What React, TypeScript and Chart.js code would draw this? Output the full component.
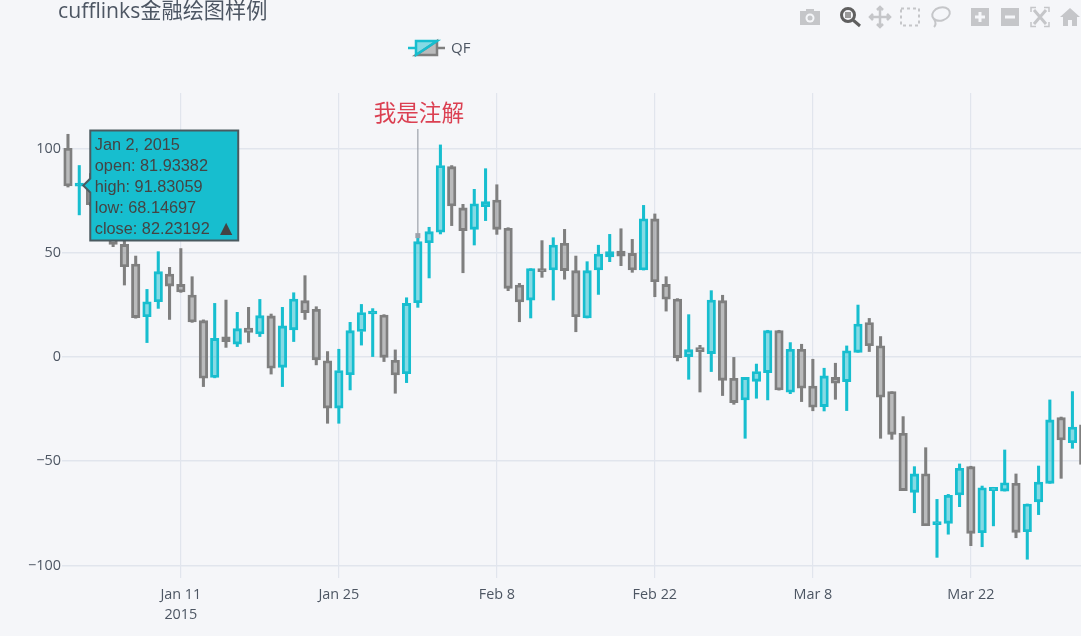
import { useEffect, useRef } from 'react'
import { Chart, Tooltip, registerables } from 'chart.js'

Chart.register(...registerables)

const title = 'cufflinks金融绘图样例'
const seriesName = 'QF'
const noteText = '我是注解'
const noteIndex = 31
const hoverIndex = 1
const hoverDate = 'Jan 2, 2015'

const tickDays = [10, 24, 38, 52, 66, 80]
const tickLabels = [['Jan 11', '2015'], 'Jan 25', 'Feb 8', 'Feb 22', 'Mar 8', 'Mar 22']
const yTicks = [100, 50, 0, -50, -100]

const open = [
  100.1, 81.93382, 82.2, 73, 62, 54, 44.6, 19.3, 26.5, 39.8, 34.8, 29.7, 17.4, -9.8, 9.7, 6.2, 13.9, 11, 19.7, -5,
  13, 27, 22.9, -1.8, -24.5, -8.5, 12.2, 20.6, 20.1, -1.6, -8, 26, 54.8, 59.8, 91.3, 71.5, 61.2, 72.1, 75.3, 61.7,
  34.5, 27.3, 41.7, 41.7, 54.5, 41.4, 18.7, 41.7, 48, 50.8, 49.7, 41.7, 66.2, 34.8, 27.8, 0.2, 4.5, 1.6, 27, -10.2,
  -20.6, -11.7, -7.5, 12.6, -16.9, 3.7, -13.9, -23.8, -9.8, -11.8, 2.2, 16.5, 5.4, -16.6, -36.6, -64.9, -56, -79.6, -79.8, -66.2,
  -52.6, -84.3, -64.1, -64.3, -60.6, -83.8, -69.5, -60.6, -29.1, -41.1, -32.6,
]
const high = [
  106.8, 91.83059, 88, 76, 65, 58, 48.4, 32.4, 50.5, 43, 52, 38.5, 17.8, 25.7, 27.3, 21.4, 23.8, 27.6, 20.6, 23.8,
  30.8, 39, 24.1, 2.6, 3.7, 16.6, 25.2, 23.2, 20.3, 3.4, 28.4, 57, 62.2, 101.7, 91.8, 73.2, 80.4, 90.3, 82.6, 62,
  35.3, 42.4, 55.8, 57.2, 61.2, 48.4, 45.7, 53.6, 58.8, 61.5, 56.4, 72.7, 68.6, 38.5, 28, 20.3, 5.6, 31.8, 29.6, -0.2,
  -9.8, -3.4, 12.8, 12.8, 6.9, 6.1, -1.1, -5.4, -3, 5.3, 24.9, 18.5, 9.8, -16.6, -28.6, -52.6, -43.5, -68.3, -65.9, -51.3,
  -52.4, -61.9, -62.5, -44.6, -56.1, -70.5, -52.3, -20.6, -28.8, -16.6, -32,
]
const low = [
  81.5, 68.14697, 72.5, 61, 52.9, 34.5, 18.6, 6.9, 23.3, 18, 31, 16.6, -14.2, -10, 4.6, 5, 7, 9.8, -8.2, -14.2,
  7.4, 18, -3.8, -31.8, -31.8, -15.8, 5.7, 0.2, -2.2, -17.4, -12.3, 23.8, 37.9, 59, 63, 40.4, 53.7, 65.4, 58.8, 31.8,
  16.9, 18.7, 38.2, 27.3, 37.3, 12.1, 18.7, 30, 45.7, 43.8, 40.6, 41.7, 28.9, 22, -1.9, -10.7, -16.8, -7, -18.5, -22.7,
  -39, -19.8, -20.6, -15.9, -17.6, -21.4, -25.8, -25.9, -20.3, -25.7, 2.2, 2.6, -39, -39.5, -64.1, -74.7, -80.9, -96.1, -85, -71.8,
  -90.5, -91, -81, -64.3, -86.7, -97, -75.6, -60.6, -58.2, -43.8, -55,
]
const close = [
  82, 82.23192, 73, 62, 54, 43.3, 18.9, 26.5, 40.9, 34, 31.2, 16.8, -10.2, 8.9, 7.3, 13.6, 11.8, 19.8, -5.4, 14.9,
  27.8, 21.3, -1.4, -24.5, -6.5, 12.6, 21.3, 21.4, -0.2, -8.6, 25.7, 55.3, 60.1, 91.8, 72.4, 60.6, 73.5, 74.5, 61.2, 32.9,
  26.4, 42.4, 40.9, 53.7, 41.4, 19.3, 41.4, 49.4, 50.5, 48.4, 41.7, 66.3, 36.1, 27.7, -0.3, 3.5, 2.6, 27.3, -11.2, -21.9,
  -9.8, -7, 12.6, -15.8, 3.7, -15, -24.1, -9.1, -12.6, 3, 15.8, 5.4, -19.3, -37.1, -64.1, -56.1, -80.9, -79, -66.3, -53.4,
  -84.6, -62.7, -62.5, -60.3, -84.1, -70.5, -60, -30.2, -39.8, -33.6, -51.5,
]

const UP = '#17BECF'
const DOWN = '#7F7F7F'
const UP_FILL = 'rgba(23, 190, 207, 0.5)'
const DOWN_FILL = 'rgba(127, 127, 127, 0.5)'
const TEXT = '#4D5663'
const GRID = '#E1E5ED'
const BG = '#F5F6F9'
const FONT = '"Open Sans", "Noto Sans CJK SC", sans-serif'
const HOVER_FONT = '"Liberation Sans", Arial, sans-serif'

const lineColors = close.map((c, i) => (c >= open[i] ? UP : DOWN))
const fillColors = close.map((c, i) => (c >= open[i] ? UP_FILL : DOWN_FILL))

// hover label points at the close value, minBarLength would shift the bar's own top
;(Tooltip.positioners as any).atClose = function (this: any, items: any[]) {
  if (!items.length) return false
  const item = items[0]
  return { x: item.element.x, y: this.chart.scales.y.getPixelForValue(close[item.index]) }
}

function drawLegend(ctx: CanvasRenderingContext2D) {
  ctx.save()
  ctx.lineWidth = 2.5
  ctx.strokeStyle = UP
  ctx.beginPath()
  ctx.moveTo(408, 48)
  ctx.lineTo(416, 48)
  ctx.stroke()
  ctx.strokeStyle = DOWN
  ctx.beginPath()
  ctx.moveTo(437, 48)
  ctx.lineTo(445, 48)
  ctx.stroke()
  // box split along the diagonal, rising half on top
  ctx.fillStyle = DOWN_FILL
  ctx.beginPath()
  ctx.moveTo(437, 41)
  ctx.lineTo(437, 55)
  ctx.lineTo(416, 55)
  ctx.closePath()
  ctx.fill()
  ctx.stroke()
  ctx.fillStyle = UP_FILL
  ctx.strokeStyle = UP
  ctx.beginPath()
  ctx.moveTo(416, 55)
  ctx.lineTo(416, 41)
  ctx.lineTo(437, 41)
  ctx.closePath()
  ctx.fill()
  ctx.stroke()
  ctx.fillStyle = TEXT
  ctx.font = `15px ${FONT}`
  ctx.textAlign = 'left'
  ctx.textBaseline = 'middle'
  ctx.fillText(seriesName, 451, 49)
  ctx.restore()
}

function drawModebar(ctx: CanvasRenderingContext2D) {
  const light = '#C5C6C9'
  ctx.save()
  ctx.fillStyle = light
  ctx.strokeStyle = light

  // camera
  ctx.fillRect(800, 11, 20, 14)
  ctx.fillRect(806, 9, 8, 3)
  ctx.fillStyle = BG
  ctx.beginPath()
  ctx.arc(810, 18, 4.5, 0, Math.PI * 2)
  ctx.fill()
  ctx.fillStyle = light
  ctx.beginPath()
  ctx.arc(810, 18, 2.5, 0, Math.PI * 2)
  ctx.fill()

  // zoom, active
  ctx.strokeStyle = '#5F5F5F'
  ctx.lineWidth = 3
  ctx.beginPath()
  ctx.arc(848, 15, 6.5, 0, Math.PI * 2)
  ctx.moveTo(853, 20)
  ctx.lineTo(860, 26)
  ctx.stroke()
  ctx.fillStyle = '#9A9A9A'
  ctx.fillRect(845, 12, 6, 6)

  // pan
  ctx.strokeStyle = light
  ctx.lineWidth = 2.5
  ctx.beginPath()
  ctx.moveTo(870, 17)
  ctx.lineTo(890, 17)
  ctx.moveTo(880, 7)
  ctx.lineTo(880, 27)
  ctx.moveTo(873, 14)
  ctx.lineTo(870, 17)
  ctx.lineTo(873, 20)
  ctx.moveTo(887, 14)
  ctx.lineTo(890, 17)
  ctx.lineTo(887, 20)
  ctx.moveTo(877, 10)
  ctx.lineTo(880, 7)
  ctx.lineTo(883, 10)
  ctx.moveTo(877, 24)
  ctx.lineTo(880, 27)
  ctx.lineTo(883, 24)
  ctx.stroke()

  // box select
  ctx.lineWidth = 2
  ctx.setLineDash([3, 3])
  ctx.strokeRect(901, 8.5, 18, 17)
  ctx.setLineDash([])

  // lasso
  ctx.beginPath()
  ctx.ellipse(941, 14, 9, 6.5, -0.3, 0, Math.PI * 2)
  ctx.moveTo(934, 19)
  ctx.quadraticCurveTo(937, 24, 934, 27)
  ctx.stroke()

  // zoom in and out
  ctx.fillStyle = light
  ctx.fillRect(971, 8, 18, 18)
  ctx.fillRect(1001, 8, 18, 18)
  ctx.fillStyle = BG
  ctx.fillRect(975, 15.5, 10, 3)
  ctx.fillRect(978.5, 12, 3, 10)
  ctx.fillRect(1005, 15.5, 10, 3)

  // autoscale
  ctx.lineWidth = 1.5
  ctx.beginPath()
  ctx.moveTo(1031, 12)
  ctx.lineTo(1031, 7.5)
  ctx.lineTo(1036, 7.5)
  ctx.moveTo(1044, 7.5)
  ctx.lineTo(1049, 7.5)
  ctx.lineTo(1049, 12)
  ctx.moveTo(1049, 22)
  ctx.lineTo(1049, 26.5)
  ctx.lineTo(1044, 26.5)
  ctx.moveTo(1036, 26.5)
  ctx.lineTo(1031, 26.5)
  ctx.lineTo(1031, 22)
  ctx.stroke()
  ctx.lineWidth = 3
  ctx.beginPath()
  ctx.moveTo(1034, 10)
  ctx.lineTo(1046, 24)
  ctx.moveTo(1046, 10)
  ctx.lineTo(1034, 24)
  ctx.stroke()

  // home
  ctx.fillStyle = light
  ctx.beginPath()
  ctx.moveTo(1060, 17)
  ctx.lineTo(1070, 8)
  ctx.lineTo(1080, 17)
  ctx.lineTo(1077, 17)
  ctx.lineTo(1077, 26)
  ctx.lineTo(1072, 26)
  ctx.lineTo(1072, 20)
  ctx.lineTo(1068, 20)
  ctx.lineTo(1068, 26)
  ctx.lineTo(1063, 26)
  ctx.lineTo(1063, 17)
  ctx.closePath()
  ctx.fill()
  ctx.restore()
}

const overlayPlugin = {
  id: 'overlay',
  afterDatasetsDraw(chart: any) {
    const { ctx, scales } = chart
    const tipX = scales.x.getPixelForValue(noteIndex)
    const tipY = scales.y.getPixelForValue(high[noteIndex])

    // annotation arrow and its text, placed relative to the annotated point
    ctx.save()
    ctx.strokeStyle = '#9DA1AA'
    ctx.lineWidth = 1.2
    ctx.beginPath()
    ctx.moveTo(tipX, tipY - 109)
    ctx.lineTo(tipX, tipY - 3)
    ctx.stroke()
    ctx.fillStyle = '#9DA1AA'
    ctx.fillRect(tipX - 2.5, tipY - 5, 5, 5)
    ctx.fillStyle = '#DB4052'
    ctx.font = '22.6px "Noto Sans CJK SC", sans-serif'
    ctx.textAlign = 'center'
    ctx.textBaseline = 'middle'
    ctx.fillText(noteText, tipX + 1, tipY - 126)

    ctx.fillStyle = TEXT
    ctx.font = `21.2px ${FONT}`
    ctx.textAlign = 'left'
    ctx.fillText(title, 58, 12)
    ctx.restore()

    drawLegend(ctx)
    drawModebar(ctx)
  },
  afterDraw(chart: any) {
    // the rising marker on the last hover line, larger than the label font has it
    const { ctx, tooltip } = chart
    if (!tooltip || !tooltip.opacity) return
    ctx.save()
    ctx.fillStyle = '#444444'
    ctx.font = '16px "DejaVu Sans", sans-serif'
    ctx.textAlign = 'center'
    ctx.textBaseline = 'middle'
    ctx.fillText('▲', tooltip.x + 136, tooltip.y + 98)
    ctx.restore()
  },
}

export default function App() {
  const chartRef = useRef<HTMLCanvasElement>(null)

  useEffect(() => {
    if (!chartRef.current) return
    const ctx = chartRef.current.getContext('2d')
    if (!ctx) return

    const chart = new Chart(ctx, {
      type: 'bar',
      data: {
        datasets: [
          {
            label: seriesName + ' upper',
            data: high.map((h, i) => ({ x: i, y: [Math.max(open[i], close[i]), h] })),
            backgroundColor: lineColors,
            borderWidth: 0,
            barThickness: 2.4,
            grouped: false,
            order: 2,
          },
          {
            label: seriesName + ' lower',
            data: low.map((l, i) => ({ x: i, y: [l, Math.min(open[i], close[i])] })),
            backgroundColor: lineColors,
            borderWidth: 0,
            barThickness: 2.4,
            grouped: false,
            order: 2,
          },
          {
            label: seriesName,
            data: open.map((o, i) => ({ x: i, y: [o, close[i]] })),
            backgroundColor: fillColors,
            borderColor: lineColors,
            borderWidth: 2.2,
            borderSkipped: false,
            barThickness: 8.5,
            minBarLength: 3,
            grouped: false,
            order: 1,
          },
        ],
      } as any,
      plugins: [overlayPlugin],
      options: {
        responsive: false,
        animation: false,
        events: [],
        layout: { padding: { left: 0, right: 0, top: 93, bottom: 0 } },
        scales: {
          x: {
            type: 'linear',
            offset: false,
            min: -0.53,
            max: 89.76,
            afterBuildTicks: (scale: any) => {
              scale.ticks = tickDays.map(v => ({ value: v }))
            },
            afterFit: (scale: any) => {
              scale.height = 58
            },
            grid: { color: GRID, lineWidth: 1.2, offset: false, drawTicks: false },
            border: { display: false },
            ticks: {
              autoSkip: false,
              maxRotation: 0,
              padding: 7,
              color: TEXT,
              font: { family: FONT, size: 14.4, lineHeight: 1.39 },
              callback: (value: any) => tickLabels[tickDays.indexOf(value)] ?? '',
            },
          },
          y: {
            min: -106,
            max: 126.6,
            afterBuildTicks: (scale: any) => {
              scale.ticks = yTicks.map(v => ({ value: v }))
            },
            afterFit: (scale: any) => {
              scale.width = 62
            },
            grid: { color: GRID, lineWidth: 1.5, drawTicks: false },
            border: { display: false },
            ticks: {
              padding: 1,
              color: TEXT,
              font: { family: FONT, size: 14.4 },
              callback: (value: any) => String(value).replace('-', '\u2212'),
            },
          },
        },
        plugins: {
          legend: { display: false },
          title: { display: false },
          tooltip: {
            enabled: true,
            animation: false,
            position: 'atClose',
            xAlign: 'left',
            yAlign: 'center',
            backgroundColor: UP,
            borderColor: '#4A5A60',
            borderWidth: 2,
            cornerRadius: 0,
            caretSize: 7,
            caretPadding: 4,
            padding: { left: 4.5, right: 28.5, top: 4.5, bottom: 0.5 },
            displayColors: false,
            titleColor: '#444444',
            bodyColor: '#444444',
            titleFont: { family: HOVER_FONT, size: 16.3, weight: 'normal', lineHeight: 1.29 },
            bodyFont: { family: HOVER_FONT, size: 16.3, lineHeight: 1.29 },
            titleMarginBottom: 0,
            bodySpacing: 0,
            callbacks: {
              title: () => hoverDate,
              label: (c: any) => [
                `open: ${open[c.dataIndex]}`,
                `high: ${high[c.dataIndex]}`,
                `low: ${low[c.dataIndex]}`,
                `close: ${close[c.dataIndex]}`,
              ],
            },
          },
        },
      },
    } as any)

    chart.tooltip?.setActiveElements([{ datasetIndex: 2, index: hoverIndex }], { x: 0, y: 0 })
    chart.update()

    return () => {
      chart.destroy()
    }
  }, [])

  return (
    <div style={{ position: 'absolute', left: 0, top: 0, width: 1081, height: 636, background: BG, overflow: 'hidden' }}>
      <canvas ref={chartRef} width={1081} height={636} style={{ display: 'block' }} />
    </div>
  )
}
